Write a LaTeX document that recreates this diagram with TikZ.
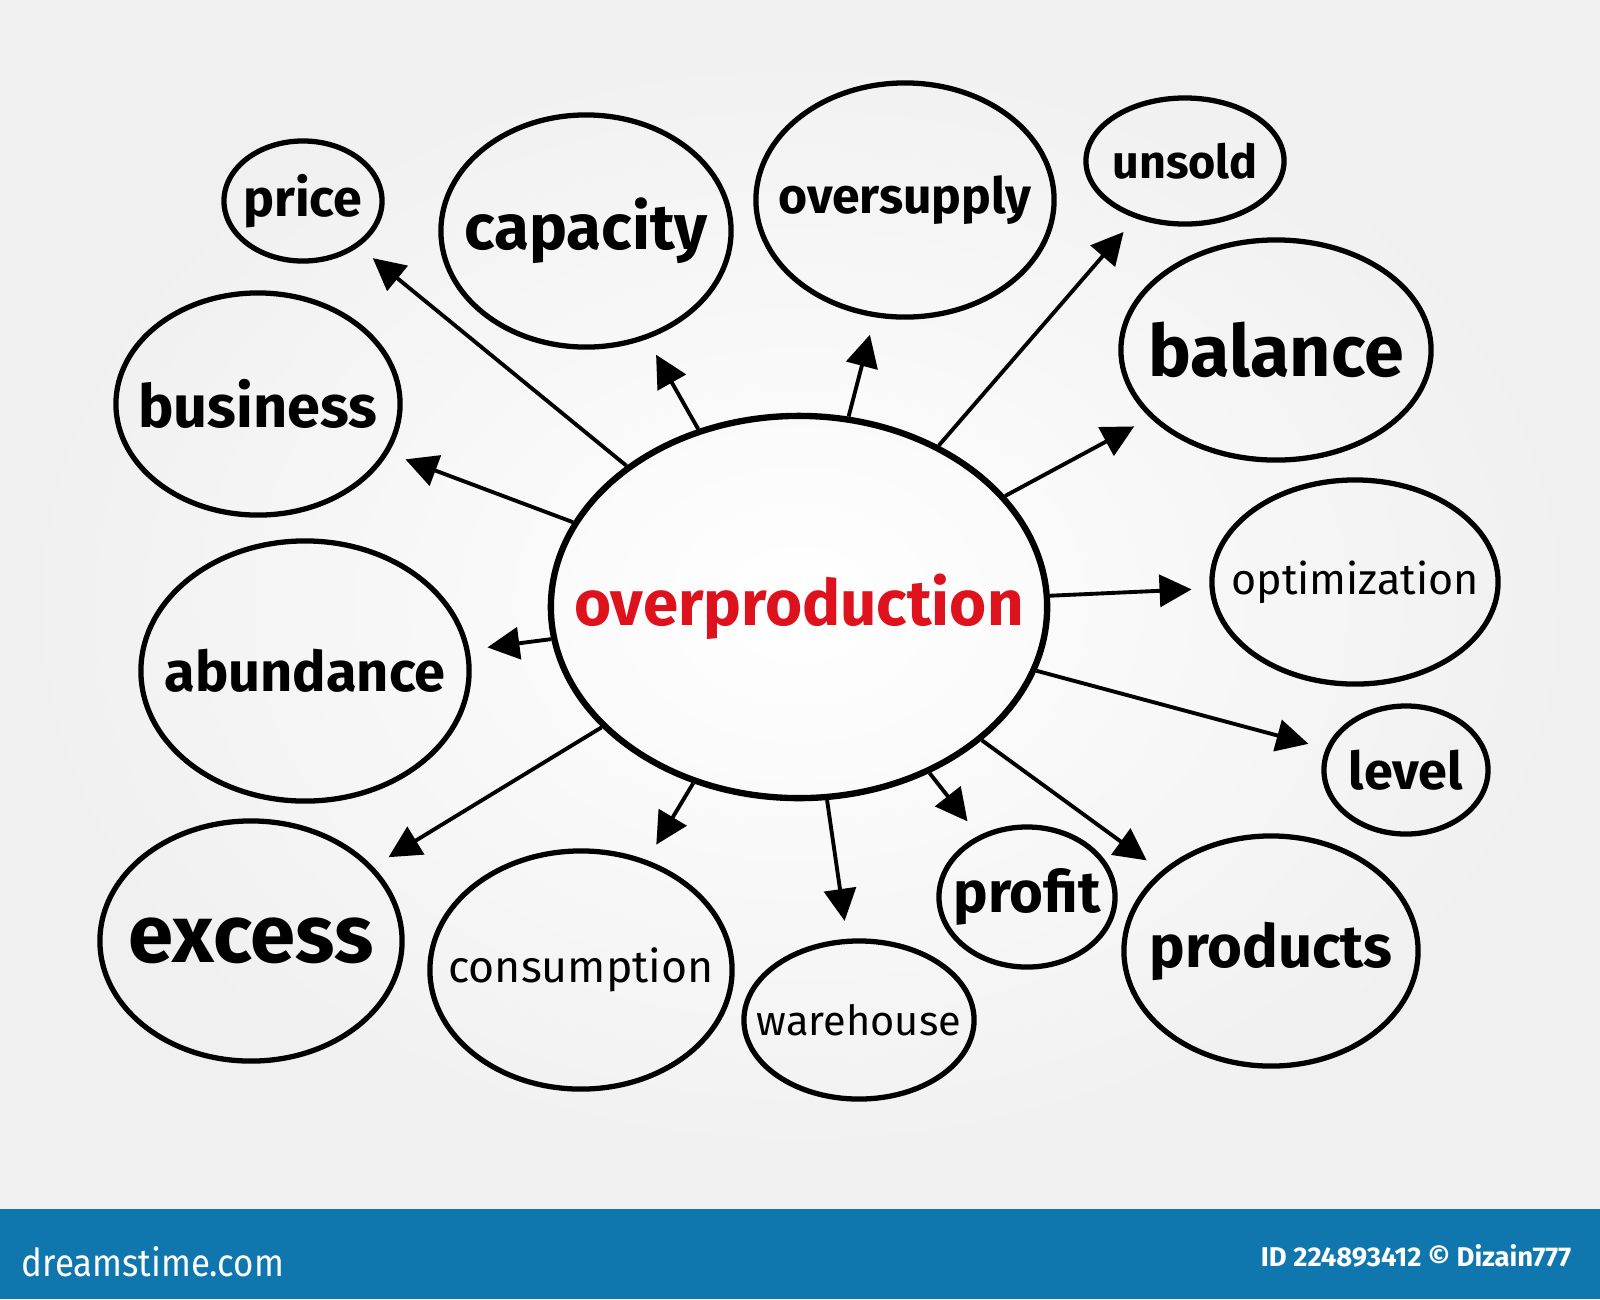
\documentclass[tikz,border=0pt]{standalone}
\usepackage{fontspec}
\setmainfont{Fira Sans}
\usepackage{graphicx}
\usetikzlibrary{shapes.geometric,arrows.meta}

\definecolor{hubred}{RGB}{222,18,28}
\definecolor{bannerblue}{RGB}{16,119,174}
\newcommand{\fitword}[2]{\resizebox{#1cm}{!}{#2}}

\begin{document}
\begin{tikzpicture}
[
 x=0.01cm, y=-0.01cm,
  >={Triangle[length=0.32cm,width=0.32cm]},
  bubble/.style 2 args = {draw, ellipse, line width=1.5pt, inner sep=0pt, minimum width=#1cm, minimum height=#2cm},
  arrow/.style = {->, line width=1.1pt, shorten >=0.18cm},
]

\useasboundingbox (0,0) rectangle (1600,1299);
\shade[inner color=white, outer color=black!6] (0,0) rectangle (1600,1209);
\fill[bannerblue] (0,1209) rectangle (1600,1299);

\node (hub) at (799,607) [bubble={4.96}{3.82}, line width=1.8pt, label={center:\textcolor{hubred}{\fitword{4.49}{\bfseries overproduction}}}] {};

\node (price) at (303,201) [bubble={1.58}{1.20}, label={center:\fitword{1.19}{\bfseries price}}] {};
\node (capacity) at (586,231) [bubble={2.90}{2.32}, label={center:\fitword{2.43}{\bfseries capacity}}] {};
\node (oversupply) at (905,200) [bubble={2.98}{2.34}, label={center:\fitword{2.53}{\bfseries oversupply}}] {};
\node (unsold) at (1185,161) [bubble={1.98}{1.26}, label={center:\fitword{1.45}{\bfseries unsold}}] {};
\node (balance) at (1276,350) [bubble={3.10}{2.20}, label={center:\fitword{2.55}{\bfseries balance}}] {};
\node (business) at (258,404) [bubble={2.84}{2.22}, label={center:\fitword{2.39}{\bfseries business}}] {};
\node (optimization) at (1355,582) [bubble={2.86}{2.04}, label={center:\fitword{2.47}{optimization}}] {};
\node (abundance) at (305,671) [bubble={3.28}{2.60}, label={center:\fitword{2.81}{\bfseries abundance}}] {};
\node (level) at (1406,770) [bubble={1.64}{1.28}, label={center:\fitword{1.14}{\bfseries level}}] {};
\node (excess) at (251,941) [bubble={3.02}{2.40}, label={center:\fitword{2.45}{\bfseries excess}}] {};
\node (consumption) at (581,970) [bubble={3.02}{2.38}, label={center:\fitword{2.65}{consumption}}] {};
\node (warehouse) at (859,1020) [bubble={2.30}{1.58}, label={center:\fitword{2.04}{warehouse}}] {};
\node (profit) at (1027,897) [bubble={1.76}{1.40}, label={center:\fitword{1.47}{\bfseries profit}}] {};
\node (products) at (1271,951) [bubble={2.94}{2.30}, label={center:\fitword{2.43}{\bfseries products}}] {};

\draw[arrow] (hub) -- (price);
\draw[arrow] (hub) -- (capacity);
\draw[arrow] (hub) -- (oversupply);
\draw[arrow] (hub) -- (unsold);
\draw[arrow] (hub) -- (balance);
\draw[arrow] (hub) -- (business);
\draw[arrow] (hub) -- (optimization);
\draw[arrow] (hub) -- (abundance);
\draw[arrow] (hub) -- (level);
\draw[arrow] (hub) -- (excess);
\draw[arrow] (hub) -- (consumption);
\draw[arrow] (hub) -- (warehouse);
\draw[arrow] (hub) -- (profit);
\draw[arrow] (hub) -- (products);

\node (site) at (153,1262) [text=white] {\resizebox{2.62cm}{0.30cm}{dreamstime.com}};
\node (credit) at (1416,1256) [text=white] {\resizebox{3.10cm}{0.22cm}{\bfseries ID 224893412 © Dizain777}};

\end{tikzpicture}
\end{document}
